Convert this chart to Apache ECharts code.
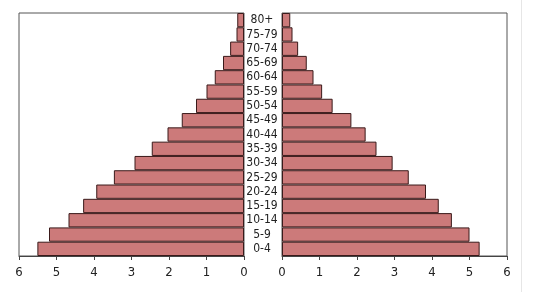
<!DOCTYPE html>
<html><head><meta charset="utf-8">
<script src="https://cdn.jsdelivr.net/npm/echarts@6/dist/echarts.min.js"></script>
<style>html,body{margin:0;padding:0;background:#fff}#c{width:534px;height:292px}</style>
</head><body><div id="c"></div>
<script>
const ageGroups = ['0-4','5-9','10-14','15-19','20-24','25-29','30-34','35-39','40-44','45-49','50-54','55-59','60-64','65-69','70-74','75-79','80+'];
const leftValues  = [5.51,5.20,4.68,4.29,3.94,3.47,2.92,2.46,2.04,1.66,1.28,1.00,0.78,0.56,0.37,0.20,0.18];
const rightValues = [5.27,5.00,4.53,4.18,3.84,3.38,2.95,2.52,2.23,1.85,1.35,1.07,0.84,0.66,0.43,0.28,0.22];
const xTicks = [0,1,2,3,4,5,6];

const chart = echarts.init(document.getElementById('c'), null, {renderer:'canvas'});
const font = {fontFamily:'DejaVu Sans Condensed, DejaVu Sans, sans-serif', fontSize:12, color:'#222'};
const barStyle = {color:'#cc7a7a', borderColor:'#3a1a1a', borderWidth:1};
const xAxisCommon = {
  type:'value', min:xTicks[0], max:xTicks[xTicks.length-1], interval:1,
  axisLine:{show:true, lineStyle:{color:'#444', width:1}},
  axisTick:{show:true, length:4, lineStyle:{color:'#444'}},
  splitLine:{show:false},
  axisLabel:Object.assign({}, font, {margin:10, fontSize:13})
};
chart.setOption({
  animation:false,
  grid:[
    {left:19, right:290, top:13, bottom:36, show:true, borderColor:'#555', borderWidth:1},
    {left:282, right:27, top:13, bottom:36, show:true, borderColor:'#555', borderWidth:1}
  ],
  xAxis:[
    Object.assign({gridIndex:0, inverse:true}, xAxisCommon),
    Object.assign({gridIndex:1}, xAxisCommon)
  ],
  yAxis:[
    {gridIndex:0, type:'category', data:ageGroups, position:'right',
     axisLine:{show:false}, axisTick:{show:false}, axisLabel:{show:false}},
    {gridIndex:1, type:'category', data:ageGroups, position:'left',
     axisLine:{show:false}, axisTick:{show:false},
     axisLabel:Object.assign({margin:20, align:'center', interval:0}, font)}
  ],
  series:[
    {type:'bar', xAxisIndex:0, yAxisIndex:0, data:leftValues, barCategoryGap:'0%', itemStyle:barStyle},
    {type:'bar', xAxisIndex:1, yAxisIndex:1, data:rightValues, barCategoryGap:'0%', itemStyle:barStyle}
  ],
  graphic:[
    {type:'line', shape:{x1:521.5, y1:0, x2:521.5, y2:292}, style:{stroke:'#e6e6e6', lineWidth:1}, silent:true}
  ]
});
</script></body></html>
